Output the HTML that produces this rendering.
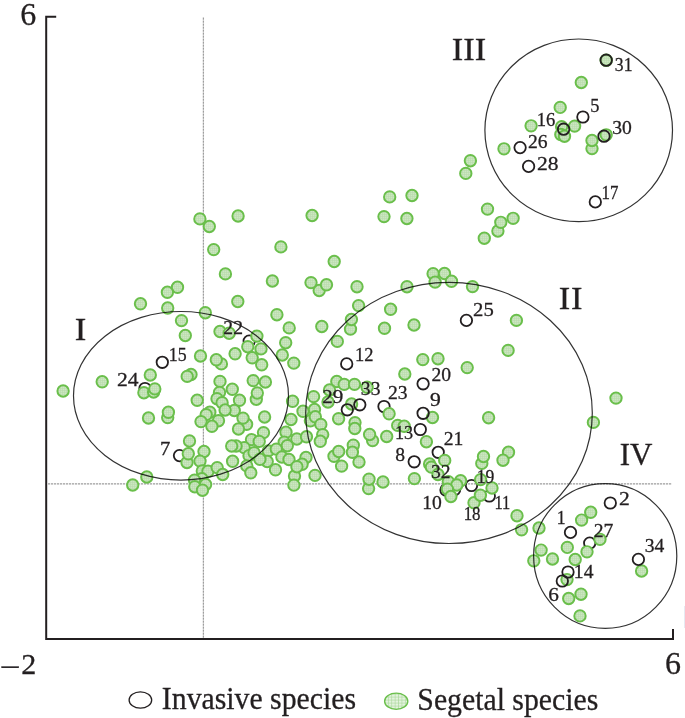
<!DOCTYPE html><html><head><meta charset="utf-8"><style>html,body{margin:0;padding:0;background:#fff;}svg{display:block;}text{font-family:"Liberation Serif","Times New Roman",serif;fill:#231f20;stroke:#231f20;stroke-width:0.3px;}</style></head><body>
<svg width="685" height="718" viewBox="0 0 685 718">
<defs><pattern id="hp" width="2" height="2" patternUnits="userSpaceOnUse"><rect width="2" height="2" fill="#cde7c2"/><rect width="2" height="0.6" fill="#b9dcac"/><rect width="0.6" height="2" fill="#b9dcac"/></pattern><pattern id="lp" width="3.4" height="3" patternUnits="userSpaceOnUse" x="0.3" y="0.6"><rect width="3.4" height="3" fill="#e3f3dd"/><rect width="3.4" height="0.6" fill="#a9d79a"/><rect width="0.6" height="3" fill="#a9d79a"/></pattern></defs>
<line x1="203.4" y1="17.5" x2="203.4" y2="638" stroke="#9d9d9d" stroke-width="1.25" stroke-dasharray="2.2 0.8"/>
<line x1="48" y1="483.9" x2="672" y2="483.9" stroke="#9d9d9d" stroke-width="1.25" stroke-dasharray="2.2 0.8"/>
<circle cx="384.0" cy="406.5" r="5.72" fill="none" stroke="#231f20" stroke-width="1.8"/>
<circle cx="438.2" cy="452.3" r="5.72" fill="none" stroke="#231f20" stroke-width="1.8"/>
<circle cx="446.0" cy="490.0" r="5.72" fill="none" stroke="#231f20" stroke-width="1.8"/>
<circle cx="454.6" cy="489.5" r="5.72" fill="none" stroke="#231f20" stroke-width="1.8"/>
<circle cx="471.5" cy="485.5" r="5.72" fill="none" stroke="#231f20" stroke-width="1.8"/>
<circle cx="489.3" cy="496.0" r="5.72" fill="none" stroke="#231f20" stroke-width="1.8"/>
<circle cx="249.2" cy="341.1" r="5.72" fill="none" stroke="#231f20" stroke-width="1.8"/>
<circle cx="145.0" cy="388.5" r="5.72" fill="none" stroke="#231f20" stroke-width="1.8"/>
<circle cx="179.5" cy="455.6" r="5.72" fill="none" stroke="#231f20" stroke-width="1.8"/>
<circle cx="589.7" cy="543.1" r="5.72" fill="none" stroke="#231f20" stroke-width="1.8"/>
<circle cx="606.2" cy="60.2" r="5.7" fill="url(#hp)" stroke="#6abf4b" stroke-width="1.95"/>
<circle cx="581.3" cy="82.5" r="5.7" fill="url(#hp)" stroke="#6abf4b" stroke-width="1.95"/>
<circle cx="560.2" cy="107.4" r="5.7" fill="url(#hp)" stroke="#6abf4b" stroke-width="1.95"/>
<circle cx="531.1" cy="125.8" r="5.7" fill="url(#hp)" stroke="#6abf4b" stroke-width="1.95"/>
<circle cx="561.6" cy="126.7" r="5.7" fill="url(#hp)" stroke="#6abf4b" stroke-width="1.95"/>
<circle cx="574.6" cy="126.1" r="5.7" fill="url(#hp)" stroke="#6abf4b" stroke-width="1.95"/>
<circle cx="560.8" cy="134.5" r="5.7" fill="url(#hp)" stroke="#6abf4b" stroke-width="1.95"/>
<circle cx="564.5" cy="136.2" r="5.7" fill="url(#hp)" stroke="#6abf4b" stroke-width="1.95"/>
<circle cx="592.0" cy="148.6" r="5.7" fill="url(#hp)" stroke="#6abf4b" stroke-width="1.95"/>
<circle cx="592.0" cy="140.5" r="5.7" fill="url(#hp)" stroke="#6abf4b" stroke-width="1.95"/>
<circle cx="606.2" cy="134.8" r="5.7" fill="url(#hp)" stroke="#6abf4b" stroke-width="1.95"/>
<circle cx="504.0" cy="148.8" r="5.7" fill="url(#hp)" stroke="#6abf4b" stroke-width="1.95"/>
<circle cx="470.4" cy="160.7" r="5.7" fill="url(#hp)" stroke="#6abf4b" stroke-width="1.95"/>
<circle cx="465.8" cy="173.4" r="5.7" fill="url(#hp)" stroke="#6abf4b" stroke-width="1.95"/>
<circle cx="487.5" cy="209.1" r="5.7" fill="url(#hp)" stroke="#6abf4b" stroke-width="1.95"/>
<circle cx="513.1" cy="218.3" r="5.7" fill="url(#hp)" stroke="#6abf4b" stroke-width="1.95"/>
<circle cx="497.9" cy="231.0" r="5.7" fill="url(#hp)" stroke="#6abf4b" stroke-width="1.95"/>
<circle cx="500.8" cy="222.3" r="5.7" fill="url(#hp)" stroke="#6abf4b" stroke-width="1.95"/>
<circle cx="484.3" cy="238.2" r="5.7" fill="url(#hp)" stroke="#6abf4b" stroke-width="1.95"/>
<circle cx="389.7" cy="196.9" r="5.7" fill="url(#hp)" stroke="#6abf4b" stroke-width="1.95"/>
<circle cx="412.0" cy="195.5" r="5.7" fill="url(#hp)" stroke="#6abf4b" stroke-width="1.95"/>
<circle cx="384.0" cy="216.6" r="5.7" fill="url(#hp)" stroke="#6abf4b" stroke-width="1.95"/>
<circle cx="406.9" cy="218.5" r="5.7" fill="url(#hp)" stroke="#6abf4b" stroke-width="1.95"/>
<circle cx="433.1" cy="273.7" r="5.7" fill="url(#hp)" stroke="#6abf4b" stroke-width="1.95"/>
<circle cx="444.5" cy="273.5" r="5.7" fill="url(#hp)" stroke="#6abf4b" stroke-width="1.95"/>
<circle cx="435.1" cy="282.1" r="5.7" fill="url(#hp)" stroke="#6abf4b" stroke-width="1.95"/>
<circle cx="451.5" cy="281.3" r="5.7" fill="url(#hp)" stroke="#6abf4b" stroke-width="1.95"/>
<circle cx="472.5" cy="286.6" r="5.7" fill="url(#hp)" stroke="#6abf4b" stroke-width="1.95"/>
<circle cx="407.0" cy="286.7" r="5.7" fill="url(#hp)" stroke="#6abf4b" stroke-width="1.95"/>
<circle cx="414.0" cy="325.0" r="5.7" fill="url(#hp)" stroke="#6abf4b" stroke-width="1.95"/>
<circle cx="516.4" cy="320.4" r="5.7" fill="url(#hp)" stroke="#6abf4b" stroke-width="1.95"/>
<circle cx="508.1" cy="350.4" r="5.7" fill="url(#hp)" stroke="#6abf4b" stroke-width="1.95"/>
<circle cx="467.2" cy="367.6" r="5.7" fill="url(#hp)" stroke="#6abf4b" stroke-width="1.95"/>
<circle cx="357.0" cy="286.7" r="5.7" fill="url(#hp)" stroke="#6abf4b" stroke-width="1.95"/>
<circle cx="358.6" cy="305.6" r="5.7" fill="url(#hp)" stroke="#6abf4b" stroke-width="1.95"/>
<circle cx="350.5" cy="329.1" r="5.7" fill="url(#hp)" stroke="#6abf4b" stroke-width="1.95"/>
<circle cx="351.4" cy="319.5" r="5.7" fill="url(#hp)" stroke="#6abf4b" stroke-width="1.95"/>
<circle cx="390.6" cy="309.3" r="5.7" fill="url(#hp)" stroke="#6abf4b" stroke-width="1.95"/>
<circle cx="384.5" cy="328.3" r="5.7" fill="url(#hp)" stroke="#6abf4b" stroke-width="1.95"/>
<circle cx="422.8" cy="359.6" r="5.7" fill="url(#hp)" stroke="#6abf4b" stroke-width="1.95"/>
<circle cx="438.0" cy="358.7" r="5.7" fill="url(#hp)" stroke="#6abf4b" stroke-width="1.95"/>
<circle cx="404.8" cy="374.0" r="5.7" fill="url(#hp)" stroke="#6abf4b" stroke-width="1.95"/>
<circle cx="616.0" cy="398.1" r="5.7" fill="url(#hp)" stroke="#6abf4b" stroke-width="1.95"/>
<circle cx="593.4" cy="422.4" r="5.7" fill="url(#hp)" stroke="#6abf4b" stroke-width="1.95"/>
<circle cx="488.6" cy="417.7" r="5.7" fill="url(#hp)" stroke="#6abf4b" stroke-width="1.95"/>
<circle cx="508.5" cy="452.3" r="5.7" fill="url(#hp)" stroke="#6abf4b" stroke-width="1.95"/>
<circle cx="503.0" cy="460.2" r="5.7" fill="url(#hp)" stroke="#6abf4b" stroke-width="1.95"/>
<circle cx="481.8" cy="463.4" r="5.7" fill="url(#hp)" stroke="#6abf4b" stroke-width="1.95"/>
<circle cx="483.5" cy="456.5" r="5.7" fill="url(#hp)" stroke="#6abf4b" stroke-width="1.95"/>
<circle cx="590.7" cy="512.3" r="5.7" fill="url(#hp)" stroke="#6abf4b" stroke-width="1.95"/>
<circle cx="581.6" cy="520.1" r="5.7" fill="url(#hp)" stroke="#6abf4b" stroke-width="1.95"/>
<circle cx="539.0" cy="528.0" r="5.7" fill="url(#hp)" stroke="#6abf4b" stroke-width="1.95"/>
<circle cx="521.6" cy="529.8" r="5.7" fill="url(#hp)" stroke="#6abf4b" stroke-width="1.95"/>
<circle cx="517.0" cy="515.7" r="5.7" fill="url(#hp)" stroke="#6abf4b" stroke-width="1.95"/>
<circle cx="600.0" cy="539.3" r="5.7" fill="url(#hp)" stroke="#6abf4b" stroke-width="1.95"/>
<circle cx="587.0" cy="551.8" r="5.7" fill="url(#hp)" stroke="#6abf4b" stroke-width="1.95"/>
<circle cx="567.3" cy="547.4" r="5.7" fill="url(#hp)" stroke="#6abf4b" stroke-width="1.95"/>
<circle cx="541.1" cy="550.1" r="5.7" fill="url(#hp)" stroke="#6abf4b" stroke-width="1.95"/>
<circle cx="552.5" cy="559.0" r="5.7" fill="url(#hp)" stroke="#6abf4b" stroke-width="1.95"/>
<circle cx="533.8" cy="560.8" r="5.7" fill="url(#hp)" stroke="#6abf4b" stroke-width="1.95"/>
<circle cx="575.2" cy="559.5" r="5.7" fill="url(#hp)" stroke="#6abf4b" stroke-width="1.95"/>
<circle cx="641.6" cy="571.0" r="5.7" fill="url(#hp)" stroke="#6abf4b" stroke-width="1.95"/>
<circle cx="567.0" cy="579.6" r="5.7" fill="url(#hp)" stroke="#6abf4b" stroke-width="1.95"/>
<circle cx="581.0" cy="594.2" r="5.7" fill="url(#hp)" stroke="#6abf4b" stroke-width="1.95"/>
<circle cx="568.7" cy="598.5" r="5.7" fill="url(#hp)" stroke="#6abf4b" stroke-width="1.95"/>
<circle cx="580.0" cy="615.9" r="5.7" fill="url(#hp)" stroke="#6abf4b" stroke-width="1.95"/>
<circle cx="312.1" cy="215.5" r="5.7" fill="url(#hp)" stroke="#6abf4b" stroke-width="1.95"/>
<circle cx="280.9" cy="246.9" r="5.7" fill="url(#hp)" stroke="#6abf4b" stroke-width="1.95"/>
<circle cx="334.2" cy="261.5" r="5.7" fill="url(#hp)" stroke="#6abf4b" stroke-width="1.95"/>
<circle cx="272.4" cy="281.0" r="5.7" fill="url(#hp)" stroke="#6abf4b" stroke-width="1.95"/>
<circle cx="319.2" cy="290.5" r="5.7" fill="url(#hp)" stroke="#6abf4b" stroke-width="1.95"/>
<circle cx="311.0" cy="282.6" r="5.7" fill="url(#hp)" stroke="#6abf4b" stroke-width="1.95"/>
<circle cx="326.5" cy="284.8" r="5.7" fill="url(#hp)" stroke="#6abf4b" stroke-width="1.95"/>
<circle cx="199.9" cy="218.9" r="5.7" fill="url(#hp)" stroke="#6abf4b" stroke-width="1.95"/>
<circle cx="209.3" cy="226.5" r="5.7" fill="url(#hp)" stroke="#6abf4b" stroke-width="1.95"/>
<circle cx="238.1" cy="216.0" r="5.7" fill="url(#hp)" stroke="#6abf4b" stroke-width="1.95"/>
<circle cx="213.7" cy="249.6" r="5.7" fill="url(#hp)" stroke="#6abf4b" stroke-width="1.95"/>
<circle cx="225.4" cy="273.9" r="5.7" fill="url(#hp)" stroke="#6abf4b" stroke-width="1.95"/>
<circle cx="177.5" cy="287.3" r="5.7" fill="url(#hp)" stroke="#6abf4b" stroke-width="1.95"/>
<circle cx="167.4" cy="292.3" r="5.7" fill="url(#hp)" stroke="#6abf4b" stroke-width="1.95"/>
<circle cx="140.5" cy="303.8" r="5.7" fill="url(#hp)" stroke="#6abf4b" stroke-width="1.95"/>
<circle cx="167.7" cy="308.0" r="5.7" fill="url(#hp)" stroke="#6abf4b" stroke-width="1.95"/>
<circle cx="205.3" cy="312.7" r="5.7" fill="url(#hp)" stroke="#6abf4b" stroke-width="1.95"/>
<circle cx="181.5" cy="320.6" r="5.7" fill="url(#hp)" stroke="#6abf4b" stroke-width="1.95"/>
<circle cx="185.3" cy="335.5" r="5.7" fill="url(#hp)" stroke="#6abf4b" stroke-width="1.95"/>
<circle cx="237.8" cy="301.5" r="5.7" fill="url(#hp)" stroke="#6abf4b" stroke-width="1.95"/>
<circle cx="276.9" cy="314.7" r="5.7" fill="url(#hp)" stroke="#6abf4b" stroke-width="1.95"/>
<circle cx="289.2" cy="327.9" r="5.7" fill="url(#hp)" stroke="#6abf4b" stroke-width="1.95"/>
<circle cx="321.8" cy="326.5" r="5.7" fill="url(#hp)" stroke="#6abf4b" stroke-width="1.95"/>
<circle cx="337.3" cy="341.4" r="5.7" fill="url(#hp)" stroke="#6abf4b" stroke-width="1.95"/>
<circle cx="63.1" cy="391.0" r="5.7" fill="url(#hp)" stroke="#6abf4b" stroke-width="1.95"/>
<circle cx="102.2" cy="381.8" r="5.7" fill="url(#hp)" stroke="#6abf4b" stroke-width="1.95"/>
<circle cx="150.3" cy="375.0" r="5.7" fill="url(#hp)" stroke="#6abf4b" stroke-width="1.95"/>
<circle cx="143.9" cy="392.7" r="5.7" fill="url(#hp)" stroke="#6abf4b" stroke-width="1.95"/>
<circle cx="153.6" cy="392.0" r="5.7" fill="url(#hp)" stroke="#6abf4b" stroke-width="1.95"/>
<circle cx="154.8" cy="388.9" r="5.7" fill="url(#hp)" stroke="#6abf4b" stroke-width="1.95"/>
<circle cx="191.0" cy="374.5" r="5.7" fill="url(#hp)" stroke="#6abf4b" stroke-width="1.95"/>
<circle cx="187.2" cy="376.4" r="5.7" fill="url(#hp)" stroke="#6abf4b" stroke-width="1.95"/>
<circle cx="148.5" cy="418.0" r="5.7" fill="url(#hp)" stroke="#6abf4b" stroke-width="1.95"/>
<circle cx="167.7" cy="417.6" r="5.7" fill="url(#hp)" stroke="#6abf4b" stroke-width="1.95"/>
<circle cx="168.4" cy="412.3" r="5.7" fill="url(#hp)" stroke="#6abf4b" stroke-width="1.95"/>
<circle cx="200.5" cy="356.0" r="5.7" fill="url(#hp)" stroke="#6abf4b" stroke-width="1.95"/>
<circle cx="221.4" cy="363.9" r="5.7" fill="url(#hp)" stroke="#6abf4b" stroke-width="1.95"/>
<circle cx="216.3" cy="359.8" r="5.7" fill="url(#hp)" stroke="#6abf4b" stroke-width="1.95"/>
<circle cx="220.0" cy="331.5" r="5.7" fill="url(#hp)" stroke="#6abf4b" stroke-width="1.95"/>
<circle cx="229.2" cy="333.2" r="5.7" fill="url(#hp)" stroke="#6abf4b" stroke-width="1.95"/>
<circle cx="256.9" cy="336.1" r="5.7" fill="url(#hp)" stroke="#6abf4b" stroke-width="1.95"/>
<circle cx="247.8" cy="346.7" r="5.7" fill="url(#hp)" stroke="#6abf4b" stroke-width="1.95"/>
<circle cx="261.0" cy="348.9" r="5.7" fill="url(#hp)" stroke="#6abf4b" stroke-width="1.95"/>
<circle cx="235.1" cy="353.8" r="5.7" fill="url(#hp)" stroke="#6abf4b" stroke-width="1.95"/>
<circle cx="252.2" cy="357.8" r="5.7" fill="url(#hp)" stroke="#6abf4b" stroke-width="1.95"/>
<circle cx="285.7" cy="342.7" r="5.7" fill="url(#hp)" stroke="#6abf4b" stroke-width="1.95"/>
<circle cx="282.3" cy="355.0" r="5.7" fill="url(#hp)" stroke="#6abf4b" stroke-width="1.95"/>
<circle cx="293.8" cy="363.1" r="5.7" fill="url(#hp)" stroke="#6abf4b" stroke-width="1.95"/>
<circle cx="261.7" cy="364.8" r="5.7" fill="url(#hp)" stroke="#6abf4b" stroke-width="1.95"/>
<circle cx="253.2" cy="380.6" r="5.7" fill="url(#hp)" stroke="#6abf4b" stroke-width="1.95"/>
<circle cx="265.4" cy="382.0" r="5.7" fill="url(#hp)" stroke="#6abf4b" stroke-width="1.95"/>
<circle cx="256.3" cy="399.2" r="5.7" fill="url(#hp)" stroke="#6abf4b" stroke-width="1.95"/>
<circle cx="257.3" cy="393.0" r="5.7" fill="url(#hp)" stroke="#6abf4b" stroke-width="1.95"/>
<circle cx="220.0" cy="381.4" r="5.7" fill="url(#hp)" stroke="#6abf4b" stroke-width="1.95"/>
<circle cx="232.3" cy="389.3" r="5.7" fill="url(#hp)" stroke="#6abf4b" stroke-width="1.95"/>
<circle cx="219.5" cy="392.4" r="5.7" fill="url(#hp)" stroke="#6abf4b" stroke-width="1.95"/>
<circle cx="217.0" cy="398.7" r="5.7" fill="url(#hp)" stroke="#6abf4b" stroke-width="1.95"/>
<circle cx="222.1" cy="402.7" r="5.7" fill="url(#hp)" stroke="#6abf4b" stroke-width="1.95"/>
<circle cx="239.5" cy="400.3" r="5.7" fill="url(#hp)" stroke="#6abf4b" stroke-width="1.95"/>
<circle cx="234.3" cy="410.5" r="5.7" fill="url(#hp)" stroke="#6abf4b" stroke-width="1.95"/>
<circle cx="225.1" cy="410.0" r="5.7" fill="url(#hp)" stroke="#6abf4b" stroke-width="1.95"/>
<circle cx="197.2" cy="400.3" r="5.7" fill="url(#hp)" stroke="#6abf4b" stroke-width="1.95"/>
<circle cx="209.8" cy="412.2" r="5.7" fill="url(#hp)" stroke="#6abf4b" stroke-width="1.95"/>
<circle cx="206.2" cy="414.6" r="5.7" fill="url(#hp)" stroke="#6abf4b" stroke-width="1.95"/>
<circle cx="218.5" cy="420.7" r="5.7" fill="url(#hp)" stroke="#6abf4b" stroke-width="1.95"/>
<circle cx="201.0" cy="421.6" r="5.7" fill="url(#hp)" stroke="#6abf4b" stroke-width="1.95"/>
<circle cx="211.9" cy="426.3" r="5.7" fill="url(#hp)" stroke="#6abf4b" stroke-width="1.95"/>
<circle cx="246.6" cy="424.3" r="5.7" fill="url(#hp)" stroke="#6abf4b" stroke-width="1.95"/>
<circle cx="243.0" cy="418.1" r="5.7" fill="url(#hp)" stroke="#6abf4b" stroke-width="1.95"/>
<circle cx="238.5" cy="429.0" r="5.7" fill="url(#hp)" stroke="#6abf4b" stroke-width="1.95"/>
<circle cx="264.6" cy="417.0" r="5.7" fill="url(#hp)" stroke="#6abf4b" stroke-width="1.95"/>
<circle cx="263.5" cy="432.6" r="5.7" fill="url(#hp)" stroke="#6abf4b" stroke-width="1.95"/>
<circle cx="292.6" cy="401.3" r="5.7" fill="url(#hp)" stroke="#6abf4b" stroke-width="1.95"/>
<circle cx="313.6" cy="396.6" r="5.7" fill="url(#hp)" stroke="#6abf4b" stroke-width="1.95"/>
<circle cx="303.0" cy="411.3" r="5.7" fill="url(#hp)" stroke="#6abf4b" stroke-width="1.95"/>
<circle cx="314.5" cy="409.5" r="5.7" fill="url(#hp)" stroke="#6abf4b" stroke-width="1.95"/>
<circle cx="310.4" cy="420.8" r="5.7" fill="url(#hp)" stroke="#6abf4b" stroke-width="1.95"/>
<circle cx="315.3" cy="416.8" r="5.7" fill="url(#hp)" stroke="#6abf4b" stroke-width="1.95"/>
<circle cx="320.8" cy="424.4" r="5.7" fill="url(#hp)" stroke="#6abf4b" stroke-width="1.95"/>
<circle cx="291.0" cy="419.5" r="5.7" fill="url(#hp)" stroke="#6abf4b" stroke-width="1.95"/>
<circle cx="286.0" cy="432.3" r="5.7" fill="url(#hp)" stroke="#6abf4b" stroke-width="1.95"/>
<circle cx="296.8" cy="439.0" r="5.7" fill="url(#hp)" stroke="#6abf4b" stroke-width="1.95"/>
<circle cx="306.5" cy="436.8" r="5.7" fill="url(#hp)" stroke="#6abf4b" stroke-width="1.95"/>
<circle cx="322.7" cy="434.6" r="5.7" fill="url(#hp)" stroke="#6abf4b" stroke-width="1.95"/>
<circle cx="320.3" cy="441.3" r="5.7" fill="url(#hp)" stroke="#6abf4b" stroke-width="1.95"/>
<circle cx="284.2" cy="442.2" r="5.7" fill="url(#hp)" stroke="#6abf4b" stroke-width="1.95"/>
<circle cx="287.3" cy="445.7" r="5.7" fill="url(#hp)" stroke="#6abf4b" stroke-width="1.95"/>
<circle cx="251.5" cy="439.6" r="5.7" fill="url(#hp)" stroke="#6abf4b" stroke-width="1.95"/>
<circle cx="259.2" cy="441.4" r="5.7" fill="url(#hp)" stroke="#6abf4b" stroke-width="1.95"/>
<circle cx="244.2" cy="447.6" r="5.7" fill="url(#hp)" stroke="#6abf4b" stroke-width="1.95"/>
<circle cx="249.0" cy="455.7" r="5.7" fill="url(#hp)" stroke="#6abf4b" stroke-width="1.95"/>
<circle cx="254.1" cy="452.7" r="5.7" fill="url(#hp)" stroke="#6abf4b" stroke-width="1.95"/>
<circle cx="268.3" cy="450.9" r="5.7" fill="url(#hp)" stroke="#6abf4b" stroke-width="1.95"/>
<circle cx="276.3" cy="449.1" r="5.7" fill="url(#hp)" stroke="#6abf4b" stroke-width="1.95"/>
<circle cx="267.2" cy="461.5" r="5.7" fill="url(#hp)" stroke="#6abf4b" stroke-width="1.95"/>
<circle cx="259.9" cy="459.3" r="5.7" fill="url(#hp)" stroke="#6abf4b" stroke-width="1.95"/>
<circle cx="281.9" cy="457.0" r="5.7" fill="url(#hp)" stroke="#6abf4b" stroke-width="1.95"/>
<circle cx="289.0" cy="459.5" r="5.7" fill="url(#hp)" stroke="#6abf4b" stroke-width="1.95"/>
<circle cx="246.8" cy="465.9" r="5.7" fill="url(#hp)" stroke="#6abf4b" stroke-width="1.95"/>
<circle cx="275.5" cy="469.8" r="5.7" fill="url(#hp)" stroke="#6abf4b" stroke-width="1.95"/>
<circle cx="250.8" cy="472.8" r="5.7" fill="url(#hp)" stroke="#6abf4b" stroke-width="1.95"/>
<circle cx="232.6" cy="461.3" r="5.7" fill="url(#hp)" stroke="#6abf4b" stroke-width="1.95"/>
<circle cx="236.1" cy="446.0" r="5.7" fill="url(#hp)" stroke="#6abf4b" stroke-width="1.95"/>
<circle cx="231.7" cy="446.0" r="5.7" fill="url(#hp)" stroke="#6abf4b" stroke-width="1.95"/>
<circle cx="189.5" cy="441.0" r="5.7" fill="url(#hp)" stroke="#6abf4b" stroke-width="1.95"/>
<circle cx="187.0" cy="462.5" r="5.7" fill="url(#hp)" stroke="#6abf4b" stroke-width="1.95"/>
<circle cx="188.3" cy="453.8" r="5.7" fill="url(#hp)" stroke="#6abf4b" stroke-width="1.95"/>
<circle cx="204.0" cy="451.5" r="5.7" fill="url(#hp)" stroke="#6abf4b" stroke-width="1.95"/>
<circle cx="200.0" cy="461.1" r="5.7" fill="url(#hp)" stroke="#6abf4b" stroke-width="1.95"/>
<circle cx="202.3" cy="470.9" r="5.7" fill="url(#hp)" stroke="#6abf4b" stroke-width="1.95"/>
<circle cx="208.0" cy="471.3" r="5.7" fill="url(#hp)" stroke="#6abf4b" stroke-width="1.95"/>
<circle cx="217.2" cy="467.6" r="5.7" fill="url(#hp)" stroke="#6abf4b" stroke-width="1.95"/>
<circle cx="222.7" cy="474.5" r="5.7" fill="url(#hp)" stroke="#6abf4b" stroke-width="1.95"/>
<circle cx="201.9" cy="478.8" r="5.7" fill="url(#hp)" stroke="#6abf4b" stroke-width="1.95"/>
<circle cx="194.5" cy="480.1" r="5.7" fill="url(#hp)" stroke="#6abf4b" stroke-width="1.95"/>
<circle cx="194.8" cy="486.7" r="5.7" fill="url(#hp)" stroke="#6abf4b" stroke-width="1.95"/>
<circle cx="205.6" cy="484.5" r="5.7" fill="url(#hp)" stroke="#6abf4b" stroke-width="1.95"/>
<circle cx="202.5" cy="490.2" r="5.7" fill="url(#hp)" stroke="#6abf4b" stroke-width="1.95"/>
<circle cx="146.8" cy="477.0" r="5.7" fill="url(#hp)" stroke="#6abf4b" stroke-width="1.95"/>
<circle cx="132.7" cy="485.0" r="5.7" fill="url(#hp)" stroke="#6abf4b" stroke-width="1.95"/>
<circle cx="336.8" cy="381.5" r="5.7" fill="url(#hp)" stroke="#6abf4b" stroke-width="1.95"/>
<circle cx="344.2" cy="384.4" r="5.7" fill="url(#hp)" stroke="#6abf4b" stroke-width="1.95"/>
<circle cx="354.5" cy="384.4" r="5.7" fill="url(#hp)" stroke="#6abf4b" stroke-width="1.95"/>
<circle cx="367.1" cy="387.3" r="5.7" fill="url(#hp)" stroke="#6abf4b" stroke-width="1.95"/>
<circle cx="351.6" cy="404.0" r="5.7" fill="url(#hp)" stroke="#6abf4b" stroke-width="1.95"/>
<circle cx="389.1" cy="413.8" r="5.7" fill="url(#hp)" stroke="#6abf4b" stroke-width="1.95"/>
<circle cx="329.5" cy="390.0" r="5.7" fill="url(#hp)" stroke="#6abf4b" stroke-width="1.95"/>
<circle cx="328.0" cy="402.0" r="5.7" fill="url(#hp)" stroke="#6abf4b" stroke-width="1.95"/>
<circle cx="338.6" cy="418.7" r="5.7" fill="url(#hp)" stroke="#6abf4b" stroke-width="1.95"/>
<circle cx="355.0" cy="422.6" r="5.7" fill="url(#hp)" stroke="#6abf4b" stroke-width="1.95"/>
<circle cx="354.8" cy="428.5" r="5.7" fill="url(#hp)" stroke="#6abf4b" stroke-width="1.95"/>
<circle cx="397.7" cy="425.4" r="5.7" fill="url(#hp)" stroke="#6abf4b" stroke-width="1.95"/>
<circle cx="404.2" cy="426.3" r="5.7" fill="url(#hp)" stroke="#6abf4b" stroke-width="1.95"/>
<circle cx="386.7" cy="436.5" r="5.7" fill="url(#hp)" stroke="#6abf4b" stroke-width="1.95"/>
<circle cx="372.6" cy="440.6" r="5.7" fill="url(#hp)" stroke="#6abf4b" stroke-width="1.95"/>
<circle cx="369.6" cy="434.5" r="5.7" fill="url(#hp)" stroke="#6abf4b" stroke-width="1.95"/>
<circle cx="353.3" cy="445.2" r="5.7" fill="url(#hp)" stroke="#6abf4b" stroke-width="1.95"/>
<circle cx="352.4" cy="452.3" r="5.7" fill="url(#hp)" stroke="#6abf4b" stroke-width="1.95"/>
<circle cx="334.0" cy="456.3" r="5.7" fill="url(#hp)" stroke="#6abf4b" stroke-width="1.95"/>
<circle cx="338.7" cy="451.5" r="5.7" fill="url(#hp)" stroke="#6abf4b" stroke-width="1.95"/>
<circle cx="359.0" cy="462.0" r="5.7" fill="url(#hp)" stroke="#6abf4b" stroke-width="1.95"/>
<circle cx="341.6" cy="466.1" r="5.7" fill="url(#hp)" stroke="#6abf4b" stroke-width="1.95"/>
<circle cx="368.6" cy="488.6" r="5.7" fill="url(#hp)" stroke="#6abf4b" stroke-width="1.95"/>
<circle cx="369.0" cy="479.2" r="5.7" fill="url(#hp)" stroke="#6abf4b" stroke-width="1.95"/>
<circle cx="383.0" cy="482.0" r="5.7" fill="url(#hp)" stroke="#6abf4b" stroke-width="1.95"/>
<circle cx="294.5" cy="476.0" r="5.7" fill="url(#hp)" stroke="#6abf4b" stroke-width="1.95"/>
<circle cx="293.9" cy="485.1" r="5.7" fill="url(#hp)" stroke="#6abf4b" stroke-width="1.95"/>
<circle cx="315.0" cy="475.4" r="5.7" fill="url(#hp)" stroke="#6abf4b" stroke-width="1.95"/>
<circle cx="306.0" cy="457.5" r="5.7" fill="url(#hp)" stroke="#6abf4b" stroke-width="1.95"/>
<circle cx="302.1" cy="464.3" r="5.7" fill="url(#hp)" stroke="#6abf4b" stroke-width="1.95"/>
<circle cx="296.9" cy="466.7" r="5.7" fill="url(#hp)" stroke="#6abf4b" stroke-width="1.95"/>
<circle cx="426.4" cy="441.7" r="5.7" fill="url(#hp)" stroke="#6abf4b" stroke-width="1.95"/>
<circle cx="432.5" cy="417.5" r="5.7" fill="url(#hp)" stroke="#6abf4b" stroke-width="1.95"/>
<circle cx="444.7" cy="460.4" r="5.7" fill="url(#hp)" stroke="#6abf4b" stroke-width="1.95"/>
<circle cx="429.6" cy="464.0" r="5.7" fill="url(#hp)" stroke="#6abf4b" stroke-width="1.95"/>
<circle cx="431.4" cy="467.1" r="5.7" fill="url(#hp)" stroke="#6abf4b" stroke-width="1.95"/>
<circle cx="438.0" cy="474.5" r="5.7" fill="url(#hp)" stroke="#6abf4b" stroke-width="1.95"/>
<circle cx="414.4" cy="478.6" r="5.7" fill="url(#hp)" stroke="#6abf4b" stroke-width="1.95"/>
<circle cx="448.3" cy="481.6" r="5.7" fill="url(#hp)" stroke="#6abf4b" stroke-width="1.95"/>
<circle cx="460.6" cy="480.8" r="5.7" fill="url(#hp)" stroke="#6abf4b" stroke-width="1.95"/>
<circle cx="456.8" cy="485.0" r="5.7" fill="url(#hp)" stroke="#6abf4b" stroke-width="1.95"/>
<circle cx="447.4" cy="489.1" r="5.7" fill="url(#hp)" stroke="#6abf4b" stroke-width="1.95"/>
<circle cx="450.9" cy="496.5" r="5.7" fill="url(#hp)" stroke="#6abf4b" stroke-width="1.95"/>
<circle cx="480.6" cy="479.6" r="5.7" fill="url(#hp)" stroke="#6abf4b" stroke-width="1.95"/>
<circle cx="492.0" cy="488.0" r="5.7" fill="url(#hp)" stroke="#6abf4b" stroke-width="1.95"/>
<circle cx="474.0" cy="502.8" r="5.7" fill="url(#hp)" stroke="#6abf4b" stroke-width="1.95"/>
<circle cx="480.4" cy="495.2" r="5.7" fill="url(#hp)" stroke="#6abf4b" stroke-width="1.95"/>
<circle cx="606.2" cy="60.2" r="5.72" fill="none" stroke="#231f20" stroke-width="1.8"/>
<circle cx="582.9" cy="117.0" r="5.72" fill="none" stroke="#231f20" stroke-width="1.8"/>
<circle cx="563.6" cy="129.2" r="5.72" fill="none" stroke="#231f20" stroke-width="1.8"/>
<circle cx="604.0" cy="136.2" r="5.72" fill="none" stroke="#231f20" stroke-width="1.8"/>
<circle cx="520.1" cy="147.6" r="5.72" fill="none" stroke="#231f20" stroke-width="1.8"/>
<circle cx="528.6" cy="166.4" r="5.72" fill="none" stroke="#231f20" stroke-width="1.8"/>
<circle cx="595.3" cy="201.9" r="5.72" fill="none" stroke="#231f20" stroke-width="1.8"/>
<circle cx="466.4" cy="320.4" r="5.72" fill="none" stroke="#231f20" stroke-width="1.8"/>
<circle cx="346.7" cy="363.9" r="5.72" fill="none" stroke="#231f20" stroke-width="1.8"/>
<circle cx="423.1" cy="383.8" r="5.72" fill="none" stroke="#231f20" stroke-width="1.8"/>
<circle cx="359.8" cy="404.8" r="5.72" fill="none" stroke="#231f20" stroke-width="1.8"/>
<circle cx="347.3" cy="409.8" r="5.72" fill="none" stroke="#231f20" stroke-width="1.8"/>
<circle cx="423.1" cy="413.3" r="5.72" fill="none" stroke="#231f20" stroke-width="1.8"/>
<circle cx="420.3" cy="429.5" r="5.72" fill="none" stroke="#231f20" stroke-width="1.8"/>
<circle cx="414.2" cy="461.8" r="5.72" fill="none" stroke="#231f20" stroke-width="1.8"/>
<circle cx="162.3" cy="362.3" r="5.72" fill="none" stroke="#231f20" stroke-width="1.8"/>
<circle cx="610.3" cy="503.0" r="5.72" fill="none" stroke="#231f20" stroke-width="1.8"/>
<circle cx="570.5" cy="532.4" r="5.72" fill="none" stroke="#231f20" stroke-width="1.8"/>
<circle cx="638.4" cy="559.4" r="5.72" fill="none" stroke="#231f20" stroke-width="1.8"/>
<circle cx="568.0" cy="572.0" r="5.72" fill="none" stroke="#231f20" stroke-width="1.8"/>
<circle cx="562.3" cy="581.0" r="5.72" fill="none" stroke="#231f20" stroke-width="1.8"/>
<ellipse cx="181" cy="395.8" rx="107.5" ry="84.3" fill="none" stroke="#333" stroke-width="1.2" style="mix-blend-mode:multiply"/>
<ellipse cx="449" cy="412.9" rx="143.3" ry="130.6" fill="none" stroke="#333" stroke-width="1.2" style="mix-blend-mode:multiply"/>
<ellipse cx="578.7" cy="130.3" rx="93.8" ry="91.3" fill="none" stroke="#333" stroke-width="1.2" style="mix-blend-mode:multiply"/>
<ellipse cx="605.2" cy="556" rx="71.6" ry="72.4" fill="none" stroke="#333" stroke-width="1.2" style="mix-blend-mode:multiply"/>
<line x1="684.5" y1="606" x2="684.5" y2="628" stroke="#e6eaf2" stroke-width="1"/>
<path d="M56.2 16.7 H46.2 V639 H673 V629" fill="none" stroke="#231f20" stroke-width="2"/>
<text transform="translate(0,677) scale(1.227,1)" font-size="30">−</text>
<text transform="translate(614.85,70.6) scale(0.9,1)" font-size="19.6">31</text>
<text transform="translate(590.15,112.25) scale(0.938,1)" font-size="19.6">5</text>
<text transform="translate(536.75,125.75) scale(0.947,1)" font-size="19.6">16</text>
<text x="528.05" y="148.1" font-size="19.6">26</text>
<text transform="translate(536.9,170.25) scale(1.1,1)" font-size="19.6">28</text>
<text x="612.25" y="133.55" font-size="19.6">30</text>
<text transform="translate(601.6,198.75) scale(0.859,1)" font-size="19.6">17</text>
<text transform="translate(473.1,316.3) scale(1.056,1)" font-size="19.6">25</text>
<text transform="translate(355.1,360.8) scale(0.941,1)" font-size="19.6">12</text>
<text x="431.45" y="380.95" font-size="19.6">20</text>
<text x="360.85" y="394.5" font-size="19.6">33</text>
<text transform="translate(322.15,403.15) scale(1.072,1)" font-size="19.6">29</text>
<text x="388.05" y="398.75" font-size="19.6">23</text>
<text transform="translate(429.9,406.35) scale(1.1,1)" font-size="19.6">9</text>
<text transform="translate(395.0,438.6) scale(0.929,1)" font-size="19.6">13</text>
<text x="443.7" y="445.3" font-size="19.6">21</text>
<text x="395.15" y="460.8" font-size="19.6">8</text>
<text x="430.95" y="478.3" font-size="19.6">32</text>
<text transform="translate(476.65,483.1) scale(0.9,1)" font-size="19.6">19</text>
<text x="422.2" y="509.0" font-size="19.6">10</text>
<text transform="translate(494.5,509.0) scale(0.84,1)" font-size="19.6">11</text>
<text transform="translate(463.65,519.6) scale(0.865,1)" font-size="19.6">18</text>
<text transform="translate(168.85,360.5) scale(0.912,1)" font-size="19.6">15</text>
<text x="223.35" y="334.25" font-size="19.6">22</text>
<text transform="translate(117.1,385.85) scale(1.1,1)" font-size="19.6">24</text>
<text transform="translate(160.1,454.8) scale(1.05,1)" font-size="19.6">7</text>
<text transform="translate(556.8,524.15) scale(0.9,1)" font-size="19.6">1</text>
<text transform="translate(618.9,505.05) scale(1.1,1)" font-size="19.6">2</text>
<text x="593.65" y="536.5" font-size="19.6">27</text>
<text x="644.65" y="552.2" font-size="19.6">34</text>
<text x="573.85" y="577.8" font-size="19.6">14</text>
<text transform="translate(548.35,600.8) scale(1.087,1)" font-size="19.6">6</text>
<text transform="translate(74.75,339.9) scale(1.12,1)" font-size="31">I</text>
<text transform="translate(558.85,309.15) scale(1.11,1)" font-size="31" style="letter-spacing:0.6px">II</text>
<text transform="translate(451.7,59.9) scale(1.11,1)" font-size="31" style="letter-spacing:0.1px">III</text>
<text x="619.75" y="465.05" font-size="31">IV</text>
<text x="20.3" y="24.55" font-size="32">6</text>
<text x="21.2" y="673.55" font-size="30">2</text>
<text x="665.0" y="674.0" font-size="32">6</text>
<text transform="translate(161.85,709.3) scale(0.93,1)" font-size="32">Invasive species</text>
<text transform="translate(417.35,710.3) scale(0.93,1)" font-size="32">Segetal species</text>
<ellipse cx="140.4" cy="700" rx="11.3" ry="8.2" fill="none" stroke="#231f20" stroke-width="1.3"/>
<ellipse cx="396.2" cy="701.2" rx="11.6" ry="8.1" fill="url(#lp)" stroke="#6abf4b" stroke-width="1.35"/>
</svg></body></html>
